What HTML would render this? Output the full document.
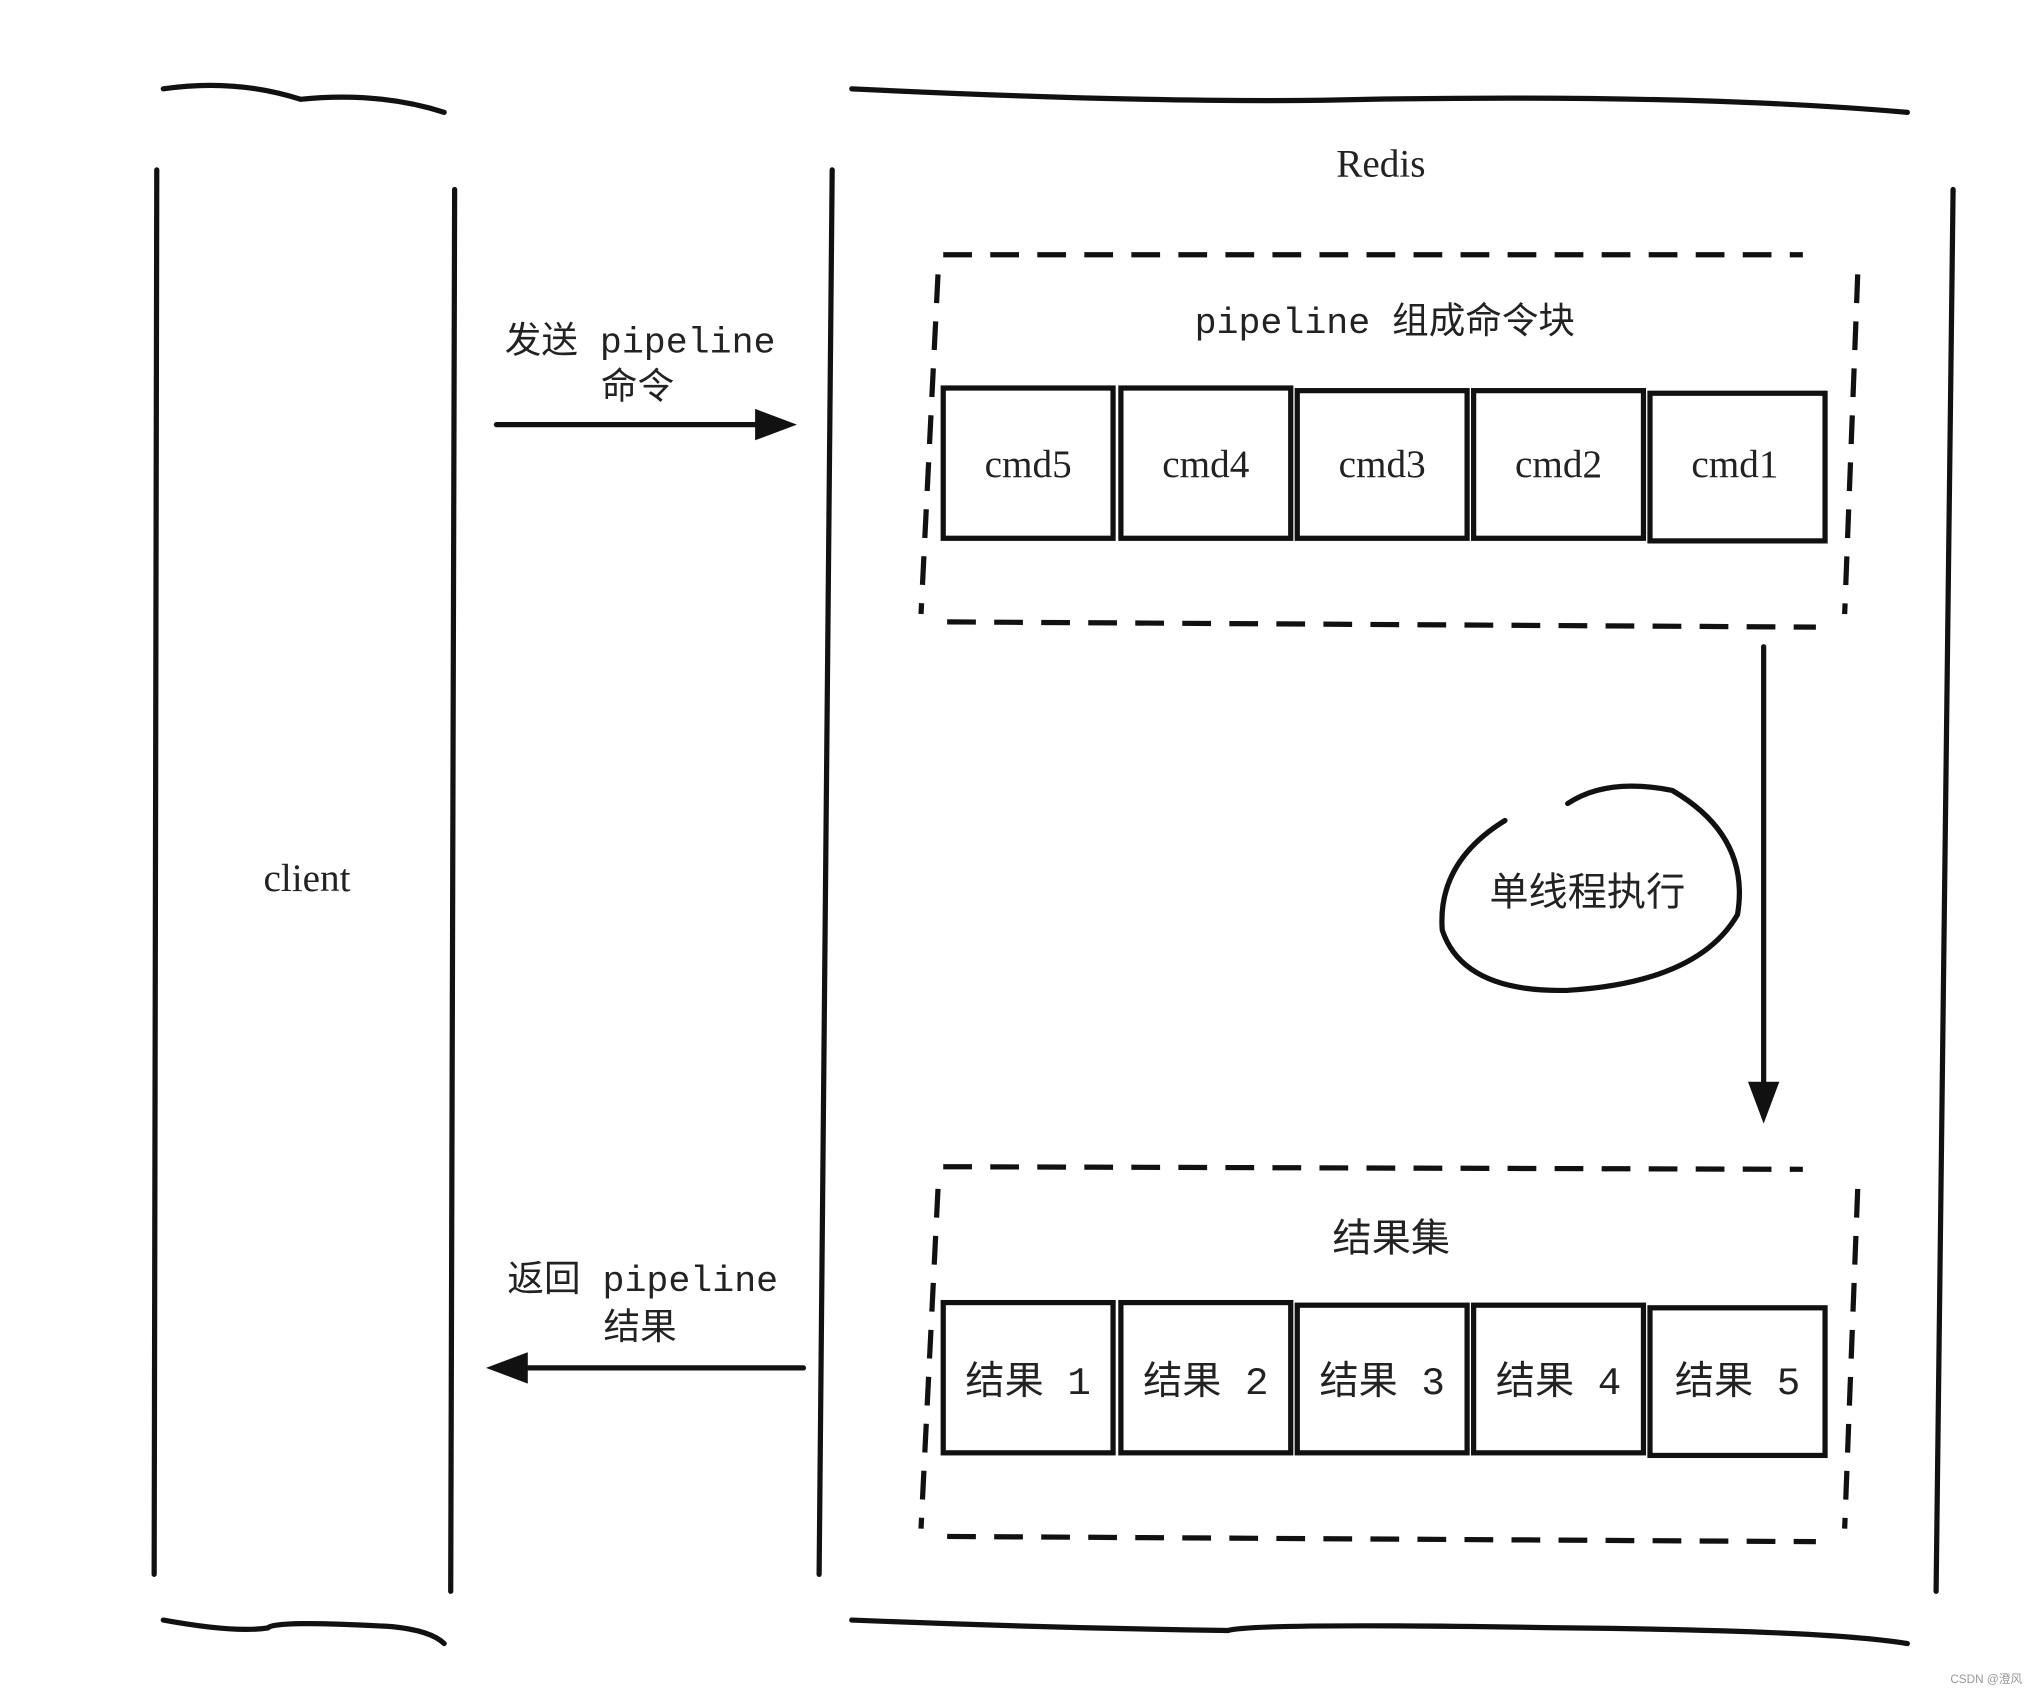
<!DOCTYPE html>
<html><head><meta charset="utf-8"><style>
html,body{margin:0;padding:0;background:#fff;}
svg{display:block}
.s{font-family:"Liberation Serif","Noto Serif CJK SC",serif;fill:#222}
.m{font-family:"Liberation Mono","Noto Sans CJK SC",monospace;fill:#222}
</style></head><body>
<svg width="2038" height="1688" viewBox="0 0 1560 1292" preserveAspectRatio="none" xmlns="http://www.w3.org/2000/svg">
<rect width="1560" height="1292" fill="#fff"/>
<g stroke="#111" stroke-width="4" fill="none" stroke-linecap="round">
<!-- client -->
<path d="M125 68 Q180 60 230 76 Q290 70 340 86"/>
<path d="M120 130 L118 1205"/>
<path d="M348 145 L345 1218"/>
<path d="M125 1240 Q180 1250 205 1246 Q210 1240 300 1245 Q330 1248 340 1258"/>
<!-- redis -->
<path d="M652 68 Q900 80 1050 76 Q1300 72 1460 86"/>
<path d="M637 130 L627 1205"/>
<path d="M1495 145 L1482 1218"/>
<path d="M652 1240 Q800 1246 940 1248 Q960 1242 1200 1246 Q1400 1248 1460 1258"/>
<!-- cmd boxes -->
<rect x="722" y="297" width="130" height="115"/>
<rect x="858" y="297" width="130" height="115"/>
<rect x="993" y="299" width="130" height="113"/>
<rect x="1128" y="299" width="130" height="113"/>
<rect x="1263" y="301" width="134" height="113"/>
<!-- result boxes -->
<rect x="722" y="997" width="130" height="115"/>
<rect x="858" y="997" width="130" height="115"/>
<rect x="993" y="999" width="130" height="113"/>
<rect x="1128" y="999" width="130" height="113"/>
<rect x="1263" y="1001" width="134" height="113"/>
<!-- arrows -->
<path d="M380 325 L590 325"/>
<path d="M1350 495 L1350 840"/>
<path d="M615 1047 L395 1047"/>
<!-- blob -->
<path d="M1152 628 Q1100 660 1104 712 Q1120 760 1200 758 Q1300 752 1330 700 Q1340 640 1280 605 Q1230 595 1200 615"/>
</g>
<g stroke="#111" stroke-width="4" fill="none" stroke-dasharray="22 14">
<path d="M722 195 L1380 195"/>
<path d="M718 210 L705 470"/>
<path d="M1422 210 L1412 470"/>
<path d="M725 476 L1390 480"/>
<path d="M722 893 L1380 895"/>
<path d="M718 910 L705 1170"/>
<path d="M1422 910 L1412 1170"/>
<path d="M725 1176 L1390 1180"/>
</g>
<g fill="#111">
<polygon points="610,325 578,313 578,337"/>
<polygon points="1350,860 1338,828 1362,828"/>
<polygon points="372,1047 404,1035 404,1059"/>
</g>
<text class="s" x="235" y="682" font-size="30" text-anchor="middle">client</text>
<text class="s" x="1057" y="135" font-size="30" text-anchor="middle">Redis</text>
<text class="m" x="1060" y="255" font-size="28" text-anchor="middle">pipeline 组成命令块</text>
<text class="s" x="787" y="365" font-size="30" text-anchor="middle">cmd5</text>
<text class="s" x="923" y="365" font-size="30" text-anchor="middle">cmd4</text>
<text class="s" x="1058" y="365" font-size="30" text-anchor="middle">cmd3</text>
<text class="s" x="1193" y="365" font-size="30" text-anchor="middle">cmd2</text>
<text class="s" x="1328" y="365" font-size="30" text-anchor="middle">cmd1</text>
<text class="m" x="1215" y="693" font-size="30" text-anchor="middle">单线程执行</text>
<text class="m" x="1065" y="958" font-size="30" text-anchor="middle">结果集</text>
<text class="m" x="787" y="1067" font-size="30" text-anchor="middle">结果 1</text>
<text class="m" x="923" y="1067" font-size="30" text-anchor="middle">结果 2</text>
<text class="m" x="1058" y="1067" font-size="30" text-anchor="middle">结果 3</text>
<text class="m" x="1193" y="1067" font-size="30" text-anchor="middle">结果 4</text>
<text class="m" x="1330" y="1067" font-size="30" text-anchor="middle">结果 5</text>
<text class="m" x="490" y="270" font-size="28" text-anchor="middle">发送 pipeline</text>
<text class="m" x="488" y="305" font-size="28" text-anchor="middle">命令</text>
<text class="m" x="492" y="988" font-size="28" text-anchor="middle">返回 pipeline</text>
<text class="m" x="490" y="1025" font-size="28" text-anchor="middle">结果</text>
<text x="1548" y="1288" font-size="9" text-anchor="end" fill="#999" font-family="Liberation Sans, Noto Sans CJK SC, sans-serif">CSDN @澄风</text>
</svg>
</body></html>
